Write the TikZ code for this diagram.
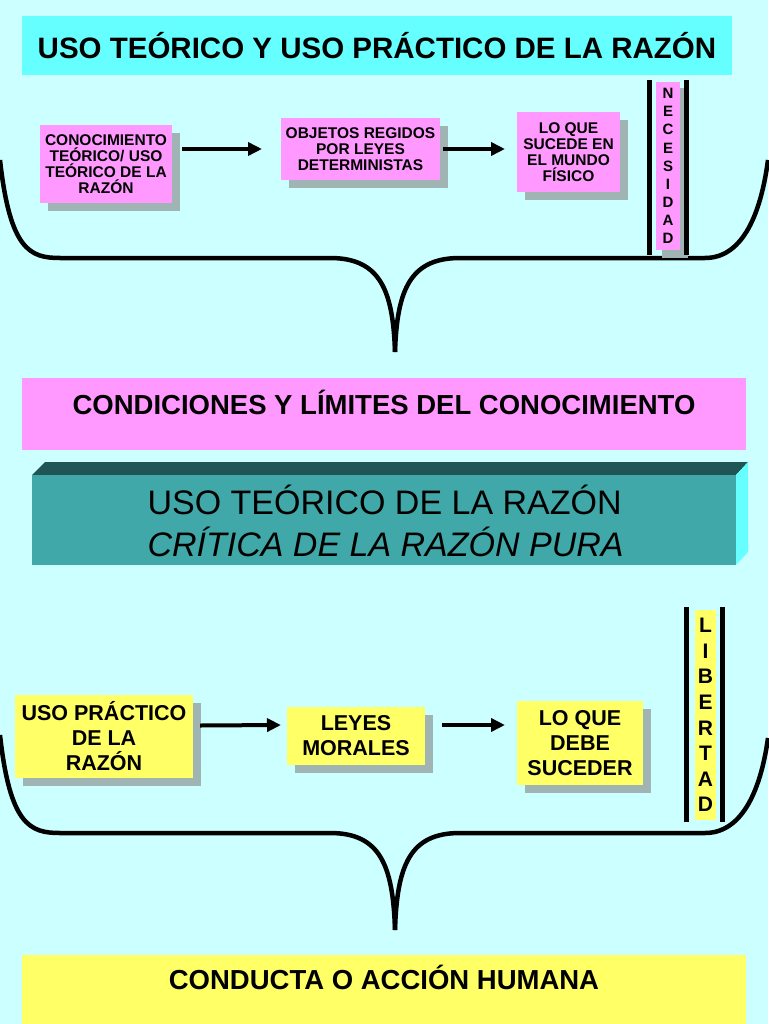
\documentclass[tikz,border=0pt]{standalone}
\usetikzlibrary{arrows.meta}
\usepackage{fontspec}
\setmainfont{Liberation Sans}
\definecolor{bg}{HTML}{CCFFFF}
\definecolor{cy}{HTML}{66FFFF}
\definecolor{pk}{HTML}{FF99FF}
\definecolor{yl}{HTML}{FFFF66}
\definecolor{sh}{HTML}{A0B4B4}
\definecolor{tealf}{HTML}{40A8A8}
\definecolor{tealt}{HTML}{1F5555}
\begin{document}
\begin{tikzpicture}[x=1pt,y=-1pt,
  box/.style={draw=none,align=center,font=\bfseries\fontsize{15.5}{16}\selectfont,inner sep=2pt},
  ybox/.style={box,fill=yl,font=\bfseries\fontsize{21.5}{25}\selectfont},
  pbox/.style={box,fill=pk},
  arr/.style={-{Triangle[length=14pt,width=13pt]},line width=4pt},
  brace/.style={line width=4.5pt},
  bar/.style={line width=5pt}]
\fill[bg] (0,0) rectangle (768,1024);
\useasboundingbox (0,0) rectangle (768,1024);
% title
\node[fill=cy,minimum width=710pt,minimum height=59pt,font=\bfseries\fontsize{29.5}{32}\selectfont] (t1) at (377,46) {USO TEÓRICO Y USO PRÁCTICO DE LA RAZÓN};
% brace 1
\draw[brace] (0,160) .. controls (10,250) and (30,258) .. (60,258) -- (330,258) .. controls (380,258) and (393,290) .. (395,352) coordinate (b1);
\draw[brace] (b1) .. controls (397,290) and (410,258) .. (460,258) -- (705,258) .. controls (740,258) and (760,220) .. (768,160);
% shadows
\fill[sh] (48,133) rectangle (180,211);
\fill[sh] (289,126) rectangle (448,188);
\fill[sh] (525,120) rectangle (628,200);
\node[pbox,minimum width=132pt,minimum height=78pt] (p1) at (106,164) {CONOCIMIENTO\\TEÓRICO/ USO\\TEÓRICO DE LA\\RAZÓN};
\node[pbox,minimum width=159pt,minimum height=62pt] (p2) at (360.5,149) {OBJETOS REGIDOS\\POR LEYES\\DETERMINISTAS};
\node[pbox,minimum width=103pt,minimum height=80pt] (p3) at (568.5,152) {LO QUE\\SUCEDE EN\\EL MUNDO\\FÍSICO};
\draw[arr] (p1.east)+(10,-15) coordinate (a1s) -- (262,149) coordinate (a1e);
\draw[arr] (p2.east)+(3,0) coordinate (a2s) -- (505,149) coordinate (a2e);
% necesidad
\fill[sh] (662,88) rectangle (688,258);
\node[fill=pk,minimum width=24pt,minimum height=168pt,inner sep=0pt,align=center,font=\bfseries\fontsize{15}{18.1}\selectfont] (nec) at (668,166) {N\\E\\C\\E\\S\\I\\D\\A\\D};
\draw[bar] (649,80) coordinate (n1) -- (649,255) coordinate (n2);
\draw[bar] (686,80) coordinate (n3) -- (686,255) coordinate (n4);
% pink banner
\node[fill=pk,minimum width=724pt,minimum height=72pt,anchor=north west] (c1) at (22,378) {};
\node[font=\bfseries\fontsize{27.5}{30}\selectfont] (c1t) at (384,402) {CONDICIONES Y LÍMITES DEL CONOCIMIENTO};
% 3D box
\fill[tealt] (32,475) -- (45,462) -- (748,462) -- (736,475) -- cycle;
\fill[cy] (736,475) -- (748,462) -- (748,552) -- (736,565) -- cycle;
\node[fill=tealf,minimum width=704pt,minimum height=90pt,anchor=north west] (tb) at (32,475) {};
\node[align=left,anchor=west,font=\fontsize{34}{42}\selectfont] (tbt) at (144,521) {USO TEÓRICO DE LA RAZÓN\\\itshape CRÍTICA DE LA RAZÓN PURA};
% brace 2
\draw[brace] (0,735) .. controls (10,825) and (30,833) .. (60,833) -- (330,833) .. controls (380,833) and (393,865) .. (395,930) coordinate (b2);
\draw[brace] (b2) .. controls (397,865) and (410,833) .. (460,833) -- (705,833) .. controls (740,833) and (760,795) .. (768,738);
% yellow boxes
\fill[sh] (23,703) rectangle (201,786);
\fill[sh] (295,715) rectangle (433,773);
\fill[sh] (525,709) rectangle (651,793);
\node[ybox,minimum width=178pt,minimum height=83pt] (y1) at (104,736.5) {USO PRÁCTICO\\DE LA\\RAZÓN};
\node[ybox,minimum width=138pt,minimum height=58pt] (y2) at (356,736) {LEYES\\MORALES};
\node[ybox,minimum width=126pt,minimum height=84pt] (y3) at (580,743) {LO QUE\\DEBE\\SUCEDER};
\draw[arr] (y1.east)+(7,-11) coordinate (a3s) -- (281,725) coordinate (a3e);
\draw[arr] (y2.east)+(17,-11) coordinate (a4s) -- (505,725) coordinate (a4e);
% libertad
\node[fill=yl,minimum width=21pt,minimum height=210pt,inner sep=0pt,align=center,font=\bfseries\fontsize{21}{25.6}\selectfont] (lib) at (705.5,715) {L\\I\\B\\E\\R\\T\\A\\D};
\draw[bar] (686,607) coordinate (l1) -- (686,822) coordinate (l2);
\draw[bar] (722,607) coordinate (l3) -- (722,822) coordinate (l4);
% yellow banner
\node[fill=yl,minimum width=724pt,minimum height=70pt,anchor=north west] (c2) at (22,955) {};
\node[font=\bfseries\fontsize{27.5}{30}\selectfont] (c2t) at (384,977) {CONDUCTA O ACCIÓN HUMANA};
\end{tikzpicture}
\end{document}
